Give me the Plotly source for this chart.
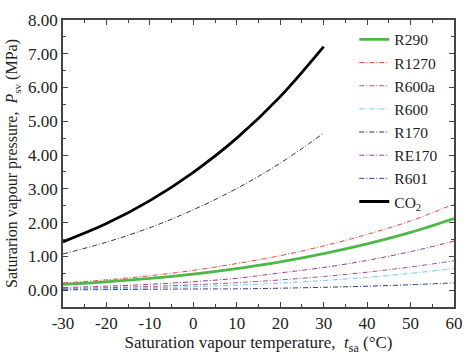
import plotly.graph_objects as go

temps = [-30, -20, -10, 0, 10, 20, 30, 40, 50, 60]
temps_co2 = [-30, -20, -10, 0, 10, 20, 30]

r290 = [0.168, 0.245, 0.345, 0.474, 0.637, 0.836, 1.08, 1.37, 1.71, 2.12]
r1270 = [0.212, 0.304, 0.427, 0.585, 0.787, 1.02, 1.31, 1.65, 2.05, 2.55]
r600a = [0.047, 0.072, 0.108, 0.157, 0.220, 0.302, 0.404, 0.531, 0.685, 0.869]
r600 = [0.028, 0.045, 0.069, 0.103, 0.148, 0.208, 0.284, 0.379, 0.496, 0.638]
r170 = [1.07, 1.42, 1.85, 2.38, 3.01, 3.76, 4.65]
re170 = [0.076, 0.116, 0.172, 0.250, 0.350, 0.51, 0.67, 0.88, 1.14, 1.45]
r601 = [0.0095, 0.015, 0.0245, 0.034, 0.0375, 0.0566, 0.083, 0.116, 0.160, 0.215]
co2 = [1.43, 1.97, 2.65, 3.49, 4.50, 5.73, 7.21]

x_tickvals = [-30, -20, -10, 0, 10, 20, 30, 40, 50, 60]
x_ticktext = ["-30", "-20", "-10", "0", "10", "20", "30", "40", "50", "60"]
y_tickvals = [0, 1, 2, 3, 4, 5, 6, 7, 8]
y_ticktext = ["0.00", "1.00", "2.00", "3.00", "4.00", "5.00", "6.00", "7.00", "8.00"]

dd = "5px,2px,1px,2px"
series = [
    ("R290", temps, r290, "#4cb848", "solid", 2.8),
    ("R1270", temps, r1270, "#e8473a", dd, 1),
    ("R600a", temps, r600a, "#a0509a", dd, 1),
    ("R600", temps, r600, "#70c5e8", dd, 1),
    ("R170", temps_co2, r170, "#333333", dd, 1),
    ("RE170", temps, re170, "#9c3a8c", dd, 1),
    ("R601", temps, r601, "#3a3a8c", dd, 1),
    ("CO<sub>2</sub>", temps_co2, co2, "#000000", "solid", 2.8),
]

fig = go.Figure()
for name, x, y, color, dash, w in series:
    fig.add_trace(go.Scatter(x=x, y=y, name=name, mode="lines",
                             line=dict(color=color, dash=dash, width=w, shape="spline")))

font = "Liberation Serif, Times New Roman, serif"
fig.update_layout(
    width=474, height=361,
    margin=dict(l=63, r=11, t=15, b=54),
    paper_bgcolor="white", plot_bgcolor="white",
    font=dict(family=font, size=16, color="#222"),
    showlegend=True,
    legend=dict(x=0.745, y=0.99, xanchor="left", yanchor="top",
                bgcolor="rgba(0,0,0,0)", font=dict(family=font, size=15.5), tracegroupgap=0),
    xaxis=dict(range=[-30, 60], tickvals=x_tickvals, ticktext=x_ticktext,
               tickfont=dict(family=font, size=17),
               showgrid=False, zeroline=False,
               showline=True, linecolor="#444", linewidth=1.5, mirror="ticks",
               ticks="inside", ticklen=5, tickcolor="#444",
               minor=dict(dtick=5, ticks="inside", ticklen=3, tickcolor="#444"),
               title=dict(text="Saturation vapour temperature,  <i>t</i><sub>sa</sub> (°C)",
                          font=dict(family=font, size=17), standoff=4)),
    yaxis=dict(range=[-0.5, 8.0], tickvals=y_tickvals, ticktext=y_ticktext, showgrid=False,
               tickfont=dict(family=font, size=17),
               zeroline=False, showline=True, linecolor="#444", linewidth=1.5, mirror="ticks",
               ticks="inside", ticklen=5, tickcolor="#444",
               minor=dict(dtick=0.5, ticks="inside", ticklen=3, tickcolor="#444"),
               title=dict(text="Saturarion vapour pressure,  <i>P</i><sub>sv</sub> (MPa)",
                          font=dict(family=font, size=16), standoff=6)),
)

fig.write_html("out.html", config={"displayModeBar": False},
               post_script="document.body.style.margin='0px';")
